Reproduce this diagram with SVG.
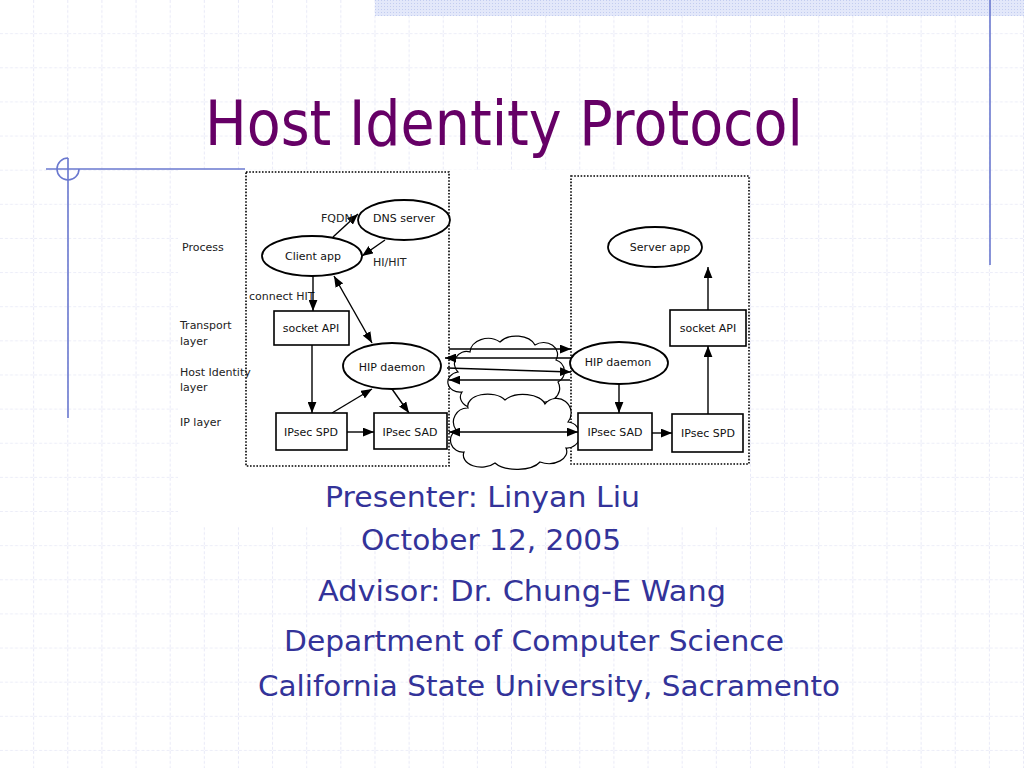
<svg xmlns="http://www.w3.org/2000/svg" width="1024" height="768" viewBox="0 0 1024 768">
<defs>
<style>
.grid{stroke:#d9dcf2;stroke-width:1.2;stroke-dasharray:3 2}
.deco{stroke:#6a78cf;stroke-width:1.6;fill:none}
.title{font-family:"DejaVu Sans","Liberation Sans",sans-serif;font-size:62px;fill:#660066}
.sub{font-family:"DejaVu Sans","Liberation Sans",sans-serif;font-size:29px;fill:#333399}
.lbl{font-family:"DejaVu Sans","Liberation Sans",sans-serif;font-size:11px;fill:#222}
.nt{font-family:"DejaVu Sans","Liberation Sans",sans-serif;font-size:11px;fill:#111;text-anchor:middle}
.node{fill:#fff;stroke:#000;stroke-width:1.8}
.box{fill:#fff;stroke:#000;stroke-width:1.6}
.frame{fill:none;stroke:#000;stroke-width:1.6;stroke-dasharray:1.6 1.6}
.cloud{fill:#fff;stroke:#000;stroke-width:1.2}
.edge{fill:none;stroke:#000;stroke-width:1.4}
.e1{marker-end:url(#ah)}
.e2{marker-end:url(#ah);marker-start:url(#ah)}
</style>
<marker id="ah" markerUnits="userSpaceOnUse" viewBox="0 0 10 8" refX="10" refY="4" markerWidth="11" markerHeight="9" orient="auto-start-reverse">
<path d="M0,0 L10,4 L0,8 Z" fill="#000"/>
</marker>
<pattern id="gp" x="0" y="0" width="34.133" height="34.133" patternUnits="userSpaceOnUse">
<line class="grid" x1="34.133" y1="0" x2="34.133" y2="34.133"/>
<line class="grid" x1="0" y1="34.133" x2="34.133" y2="34.133"/>
</pattern>
<pattern id="dp" x="0" y="0" width="3" height="3" patternUnits="userSpaceOnUse">
<rect width="3" height="3" fill="#e3e8fa"/>
<rect width="1" height="1" fill="#c3cdf0"/>
</pattern>
</defs>
<rect width="1024" height="768" fill="#fff"/>
<rect width="1024" height="768" fill="url(#gp)"/>
<rect x="375" y="0" width="649" height="16" fill="url(#dp)"/>
<g id="decoration">
<line class="deco" x1="990" y1="0" x2="990" y2="265"/>
<line class="deco" x1="46" y1="169" x2="245" y2="169"/>
<line class="deco" x1="68" y1="158" x2="68" y2="418"/>
<path class="deco" d="M68,158 A11,11 0 1 0 79,169"/>
</g>
<text class="title" x="205" y="145" textLength="598" lengthAdjust="spacingAndGlyphs">Host Identity Protocol</text>
<rect x="178" y="170" width="572" height="357" fill="#fff"/>
<g id="frames">
<rect class="frame" x="246" y="172" width="203" height="294"/>
<rect class="frame" x="571" y="176" width="178" height="288"/>
</g>
<g id="layer-labels">
<text class="lbl" x="182" y="251">Process</text>
<text class="lbl" x="249" y="300">connect HIT</text>
<text class="lbl" x="180" y="329">Transport</text>
<text class="lbl" x="180" y="345">layer</text>
<text class="lbl" x="180" y="376">Host Identity</text>
<text class="lbl" x="180" y="391">layer</text>
<text class="lbl" x="180" y="426">IP layer</text>
</g>
<g id="clouds">
<path class="cloud" d="M458,372 A12,12 0 0 1 470,352 A18,14 0 0 1 500,342 A20,14 0 0 1 535,345 A14,12 0 0 1 556,360 A12,12 0 0 1 558,382 A16,14 0 0 1 535,400 A22,12 0 0 1 495,402 A18,12 0 0 1 462,392 A12,10 0 0 1 458,372 Z"/>
<path class="cloud" d="M456,430 A14,14 0 0 1 468,408 A20,12 0 0 1 505,400 A22,12 0 0 1 545,404 A14,14 0 0 1 568,422 A12,12 0 0 1 566,448 A18,12 0 0 1 540,462 A25,12 0 0 1 495,463 A18,12 0 0 1 464,452 A12,12 0 0 1 456,430 Z"/>
</g>
<g id="connectors">
<line class="edge e1" x1="333" y1="237" x2="358" y2="214"/>
<line class="edge e1" x1="385" y1="240" x2="362" y2="256"/>
<line class="edge e1" x1="313" y1="276" x2="313" y2="311"/>
<line class="edge e2" x1="334" y1="276" x2="372" y2="343"/>
<line class="edge e1" x1="312" y1="345" x2="312" y2="413"/>
<line class="edge e1" x1="332" y1="413" x2="372" y2="389"/>
<line class="edge e1" x1="392" y1="389" x2="409" y2="413"/>
<line class="edge e1" x1="347" y1="432" x2="374" y2="432"/>
<line class="edge e1" x1="449" y1="349" x2="571" y2="349"/>
<line class="edge e1" x1="572" y1="358" x2="445" y2="358"/>
<line class="edge e1" x1="447" y1="368" x2="571" y2="372"/>
<line class="edge e1" x1="570" y1="380" x2="449" y2="380"/>
<line class="edge e2" x1="449" y1="432" x2="578" y2="432"/>
<line class="edge e1" x1="619" y1="385" x2="619" y2="413"/>
<line class="edge e1" x1="652" y1="433" x2="672" y2="433"/>
<line class="edge e1" x1="708" y1="414" x2="708" y2="346"/>
<line class="edge e1" x1="708" y1="310" x2="708" y2="267"/>
</g>
<g id="edge-labels">
<text class="lbl" x="321" y="222">FQDN</text>
<text class="lbl" x="373" y="266">HI/HIT</text>
</g>
<g id="dns-server"><ellipse class="node" cx="404" cy="220" rx="46" ry="20"/><text class="nt" x="404" y="222">DNS server</text></g>
<g id="client-app"><ellipse class="node" cx="312" cy="256" rx="50" ry="20"/><text class="nt" x="313" y="260">Client app</text></g>
<g id="socket-api-l"><rect class="box" x="274" y="311" width="75" height="34"/><text class="nt" x="311" y="332">socket API</text></g>
<g id="hip-daemon-l"><ellipse class="node" cx="392" cy="366" rx="49" ry="23"/><text class="nt" x="392" y="371">HIP daemon</text></g>
<g id="ipsec-spd-l"><rect class="box" x="276" y="413" width="71" height="37"/><text class="nt" x="311" y="436">IPsec SPD</text></g>
<g id="ipsec-sad-l"><rect class="box" x="374" y="413" width="73" height="36"/><text class="nt" x="410" y="436">IPsec SAD</text></g>
<g id="server-app"><ellipse class="node" cx="655" cy="247" rx="47" ry="20"/><text class="nt" x="660" y="251">Server app</text></g>
<g id="socket-api-r"><rect class="box" x="670" y="310" width="76" height="36"/><text class="nt" x="708" y="332">socket API</text></g>
<g id="hip-daemon-r"><ellipse class="node" cx="619" cy="363" rx="49" ry="21"/><text class="nt" x="618" y="366">HIP daemon</text></g>
<g id="ipsec-sad-r"><rect class="box" x="578" y="413" width="74" height="37"/><text class="nt" x="615" y="436">IPsec SAD</text></g>
<g id="ipsec-spd-r"><rect class="box" x="672" y="414" width="71" height="38"/><text class="nt" x="708" y="437">IPsec SPD</text></g>
<g id="subtitle">
<text class="sub" x="325" y="507" textLength="315" lengthAdjust="spacingAndGlyphs">Presenter: Linyan Liu</text>
<text class="sub" x="361" y="550" textLength="260" lengthAdjust="spacingAndGlyphs">October 12, 2005</text>
<text class="sub" x="318" y="601" textLength="408" lengthAdjust="spacingAndGlyphs">Advisor: Dr. Chung-E Wang</text>
<text class="sub" x="284" y="651" textLength="500" lengthAdjust="spacingAndGlyphs">Department of Computer Science</text>
<text class="sub" x="258" y="696" textLength="582" lengthAdjust="spacingAndGlyphs">California State University, Sacramento</text>
</g>
</svg>
